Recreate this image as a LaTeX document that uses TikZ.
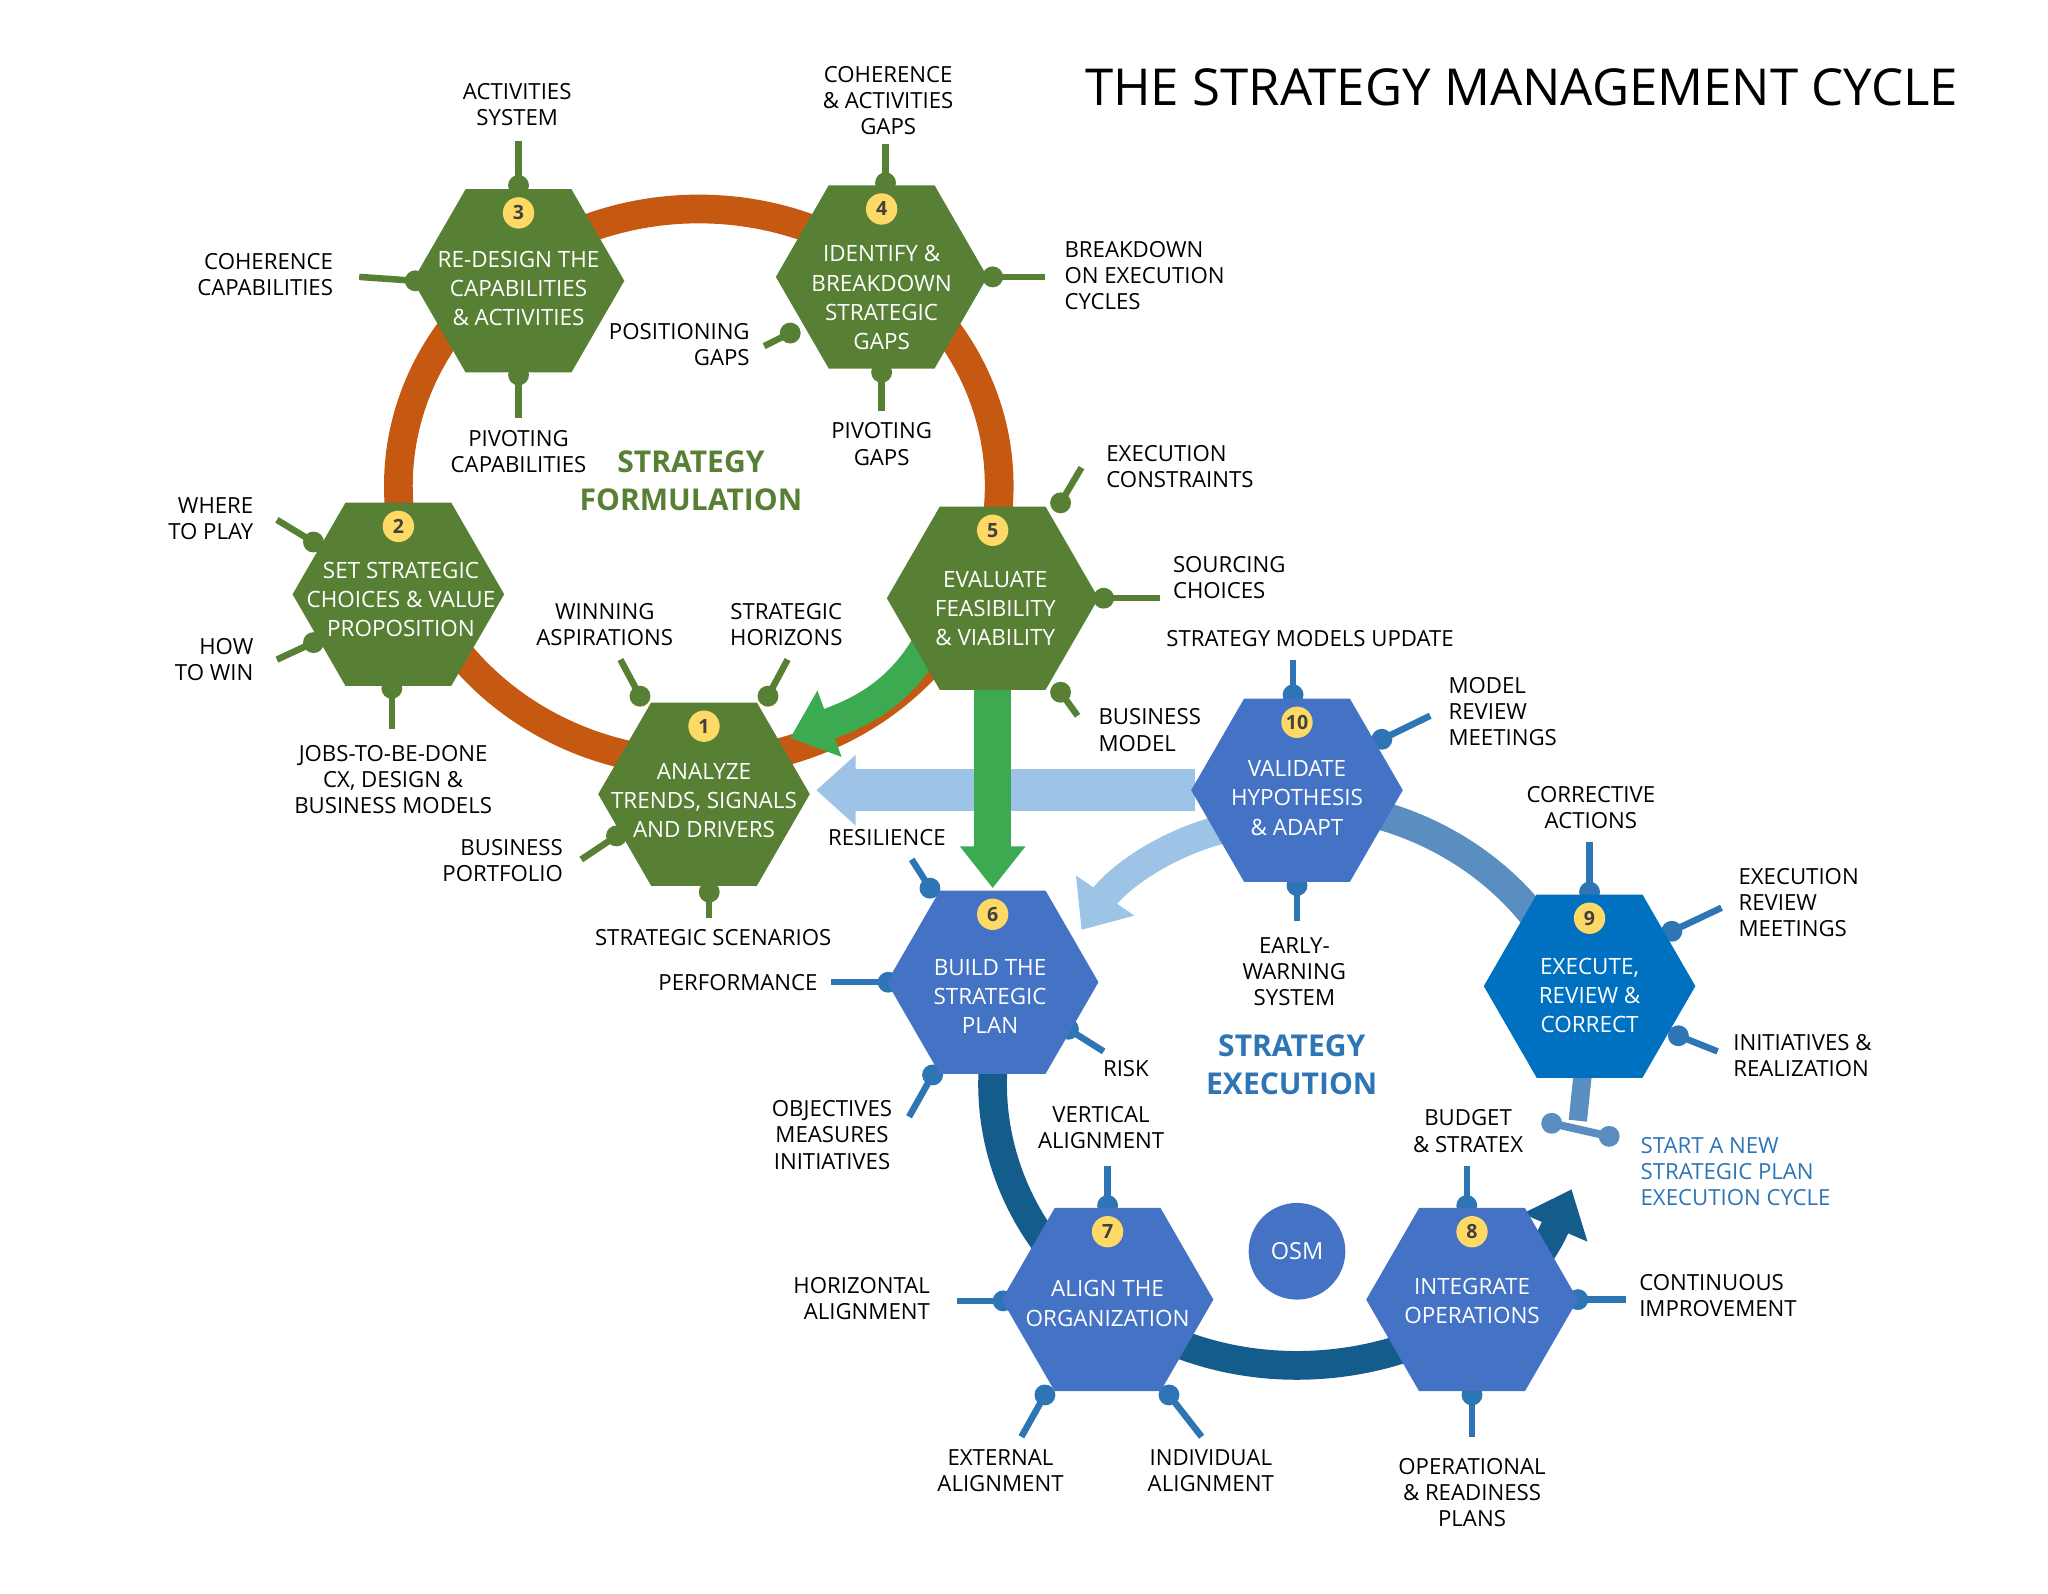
\documentclass[tikz,border=0pt]{standalone}
\usepackage{fontspec}
\setmainfont{Open Sans}
\usetikzlibrary{shapes.geometric,arrows.meta}
\definecolor{hg}{RGB}{88,128,52}
\definecolor{hb}{RGB}{68,114,196}
\definecolor{hb9}{RGB}{0,112,192}
\definecolor{ro}{RGB}{198,89,17}
\definecolor{ga}{RGB}{60,170,80}
\definecolor{lb}{RGB}{157,195,230}
\definecolor{db}{RGB}{20,92,140}
\definecolor{sb}{RGB}{90,141,192}
\definecolor{sp}{RGB}{46,117,182}
\definecolor{yl}{RGB}{255,217,102}
\begin{document}
\begin{tikzpicture}[x=0.5pt,y=-0.5pt,
  hex/.style={regular polygon,regular polygon sides=6,minimum size=81pt,inner sep=0pt,draw=none},
  ht/.style={text=white,align=center,font=\fontsize{8.6}{11.2}\selectfont},
  num/.style={circle,fill=yl,minimum size=12pt,inner sep=0pt,font=\bfseries\fontsize{7.5}{8}\selectfont,text=black!75},
  lab/.style={align=center,font=\fontsize{8.5}{10}\selectfont,text=black},
  gs/.style={draw=hg,line width=2.5pt},
  bs/.style={draw=sp,line width=2.5pt}]
\useasboundingbox (0,0) rectangle (1568,1220);
% rings
\draw[ro,line width=11pt] (535,372) ellipse [x radius=230,y radius=212];
\draw[sb,line width=11pt] (990,830) ++(-90:230 and 215) coordinate(t) (t) arc[start angle=-90,end angle=-20,x radius=230,y radius=215];
\draw[db,line width=11pt,-{Triangle[length=16pt,width=26pt]}] (990,830) ++(200:230 and 215) arc[start angle=200,end angle=22,x radius=230,y radius=215];
\draw[lb,line width=11pt,-{Triangle[length=16pt,width=26pt]}] (935,635) .. controls (880,650) and (850,680) .. (828,712);
\draw[lb,line width=16pt,-{Triangle[length=15pt,width=26pt]}] (915,605) -- (625,605);
\draw[ga,line width=14pt,-{Triangle[length=16pt,width=24pt]}] (760,525) -- (760,680);
\draw[ga,line width=12pt,-{Triangle[length=16pt,width=26pt]}] (712,490) .. controls (690,530) and (660,545) .. (605,565);
% restart path
\draw[sb,line width=7pt] (1212,820) -- (1208,858);
\draw[sb,line width=3pt] (1188,860) -- (1232,870);
\fill[sb] (1188,860) circle (8) (1232,870) circle (8);
% spokes
\foreach \x/\y/\u/\v in {397/142/397/108,318/215/275/212,397/287/397/320,
  678/140/678/110,760/212/800/212,605/255/585/265,675/285/675/315,
  240/415/212/398,240/492/212/505,300/527/300/558,
  490/533/475/505,588/533/603/505,472/640/445/658,543/683/543/703,
  812/385/828/358,845/458/888/458,812/530/825/548}
  {\draw[gs] (\x,\y) -- (\u,\v); \fill[hg] (\x,\y) circle (8);}
\foreach \x/\y/\u/\v in {712/680/698/658,680/752/636/752,818/788/845/805,714/823/696/855,
  848/923/848/893,768/996/733/996,800/1068/782/1100,895/1068/920/1100,
  1123/923/1123/893,1208/995/1245/995,1127/1068/1127/1100,
  1217/683/1217/645,1280/713/1318/695,1285/793/1315/805,
  990/532/990/505,1058/566/1095/548,993/678/993/705}
  {\draw[bs] (\x,\y) -- (\u,\v); \fill[sp] (\x,\y) circle (8);}
% hexagons
\node[hex,fill=hg] (h1) at (539,608) {};
\node[hex,fill=hg] (h2) at (305,455) {};
\node[hex,fill=hg] (h3) at (397,215) {};
\node[hex,fill=hg] (h4) at (675,212) {};
\node[hex,fill=hg] (h5) at (760,458) {};
\node[hex,fill=hb] (h6) at (760,752) {};
\node[hex,fill=hb] (h7) at (848,995) {};
\node[hex,fill=hb] (h8) at (1127,995) {};
\node[hex,fill=hb9] (h9) at (1217,755) {};
\node[hex,fill=hb] (h10) at (993,605) {};
\foreach \n/\k in {h1/1,h2/2,h3/3,h4/4,h5/5,h6/6,h7/7,h8/8,h9/9,h10/10}
  \node[num] (n\k) at ([yshift=26pt]\n.center) {\k};
\node[ht] at (539,613) {ANALYZE\\TRENDS, SIGNALS\\AND DRIVERS};
\node[ht] at (307,459) {SET STRATEGIC\\CHOICES \& VALUE\\PROPOSITION};
\node[ht] at (397,221) {RE-DESIGN THE\\CAPABILITIES\\\& ACTIVITIES};
\node[ht] at (675,228) {IDENTIFY \&\\BREAKDOWN\\STRATEGIC\\GAPS};
\node[ht] at (762,466) {EVALUATE\\FEASIBILITY\\\& VIABILITY};
\node[ht] at (758,763) {BUILD THE\\STRATEGIC\\PLAN};
\node[ht] at (848,998) {ALIGN THE\\ORGANIZATION};
\node[ht] at (1127,996) {INTEGRATE\\OPERATIONS};
\node[ht] at (1217,762) {EXECUTE,\\REVIEW \&\\CORRECT};
\node[ht] at (993,611) {VALIDATE\\HYPOTHESIS\\\& ADAPT};
\node[circle,fill=hb,minimum size=37pt,text=white,font=\fontsize{9}{10}\selectfont] (osm) at (993,958) {OSM};
% labels
\node[lab] at (396,80) {ACTIVITIES\\SYSTEM};
\node[lab,anchor=east,align=right] at (262,210) {COHERENCE\\CAPABILITIES};
\node[lab] at (397,346) {PIVOTING\\CAPABILITIES};
\node[lab] at (680,77) {COHERENCE\\\& ACTIVITIES\\GAPS};
\node[lab,anchor=west,align=left] at (808,211) {BREAKDOWN\\ON EXECUTION\\CYCLES};
\node[lab,anchor=east,align=right] at (581,264) {POSITIONING\\GAPS};
\node[lab] at (675,340) {PIVOTING\\GAPS};
\node[lab,anchor=east,align=right] at (201,397) {WHERE\\TO PLAY};
\node[lab,anchor=east,align=right] at (201,505) {HOW\\TO WIN};
\node[lab] at (301,597) {JOBS-TO-BE-DONE\\CX, DESIGN \&\\BUSINESS MODELS};
\node[lab] at (463,478) {WINNING\\ASPIRATIONS};
\node[lab] at (602,478) {STRATEGIC\\HORIZONS};
\node[lab,anchor=east,align=right] at (438,659) {BUSINESS\\PORTFOLIO};
\node[lab] at (546,718) {STRATEGIC SCENARIOS};
\node[lab,anchor=west,align=left] at (840,357) {EXECUTION\\CONSTRAINTS};
\node[lab,anchor=west,align=left] at (891,442) {SOURCING\\CHOICES};
\node[lab,anchor=west,align=left] at (834,559) {BUSINESS\\MODEL};
\node[lab] at (679,641) {RESILIENCE};
\node[lab,anchor=east] at (633,752) {PERFORMANCE};
\node[lab] at (862,818) {RISK};
\node[lab] at (637,869) {OBJECTIVES\\MEASURES\\INITIATIVES};
\node[lab] at (843,863) {VERTICAL\\ALIGNMENT};
\node[lab,anchor=east,align=right] at (719,994) {HORIZONTAL\\ALIGNMENT};
\node[lab] at (766,1126) {EXTERNAL\\ALIGNMENT};
\node[lab] at (927,1126) {INDIVIDUAL\\ALIGNMENT};
\node[lab] at (1124,866) {BUDGET\\\& STRATEX};
\node[lab,anchor=west,align=left] at (1248,992) {CONTINUOUS\\IMPROVEMENT};
\node[lab] at (1127,1143) {OPERATIONAL\\\& READINESS\\PLANS};
\node[lab] at (1218,618) {CORRECTIVE\\ACTIONS};
\node[lab,anchor=west,align=left] at (1324,691) {EXECUTION\\REVIEW\\MEETINGS};
\node[lab,anchor=west,align=left] at (1320,808) {INITIATIVES \&\\REALIZATION};
\node[lab] at (1003,489) {STRATEGY MODELS UPDATE};
\node[lab,anchor=west,align=left] at (1102,545) {MODEL\\REVIEW\\MEETINGS};
\node[lab] at (991,744) {EARLY-\\WARNING\\SYSTEM};
\node[lab,anchor=west,align=left,text=sp] at (1249,897) {START A NEW\\STRATEGIC PLAN\\EXECUTION CYCLE};
\node[align=center,text=hg,font=\bfseries\fontsize{11.5}{14.5}\selectfont] at (529,368) {STRATEGY\\FORMULATION};
\node[align=center,text=sp,font=\bfseries\fontsize{11.5}{14.5}\selectfont] at (989,815) {STRATEGY\\EXECUTION};
\node[font=\fontsize{19.5}{22}\selectfont,text=black] at (1165,67) {THE STRATEGY MANAGEMENT CYCLE};
\end{tikzpicture}
\end{document}
